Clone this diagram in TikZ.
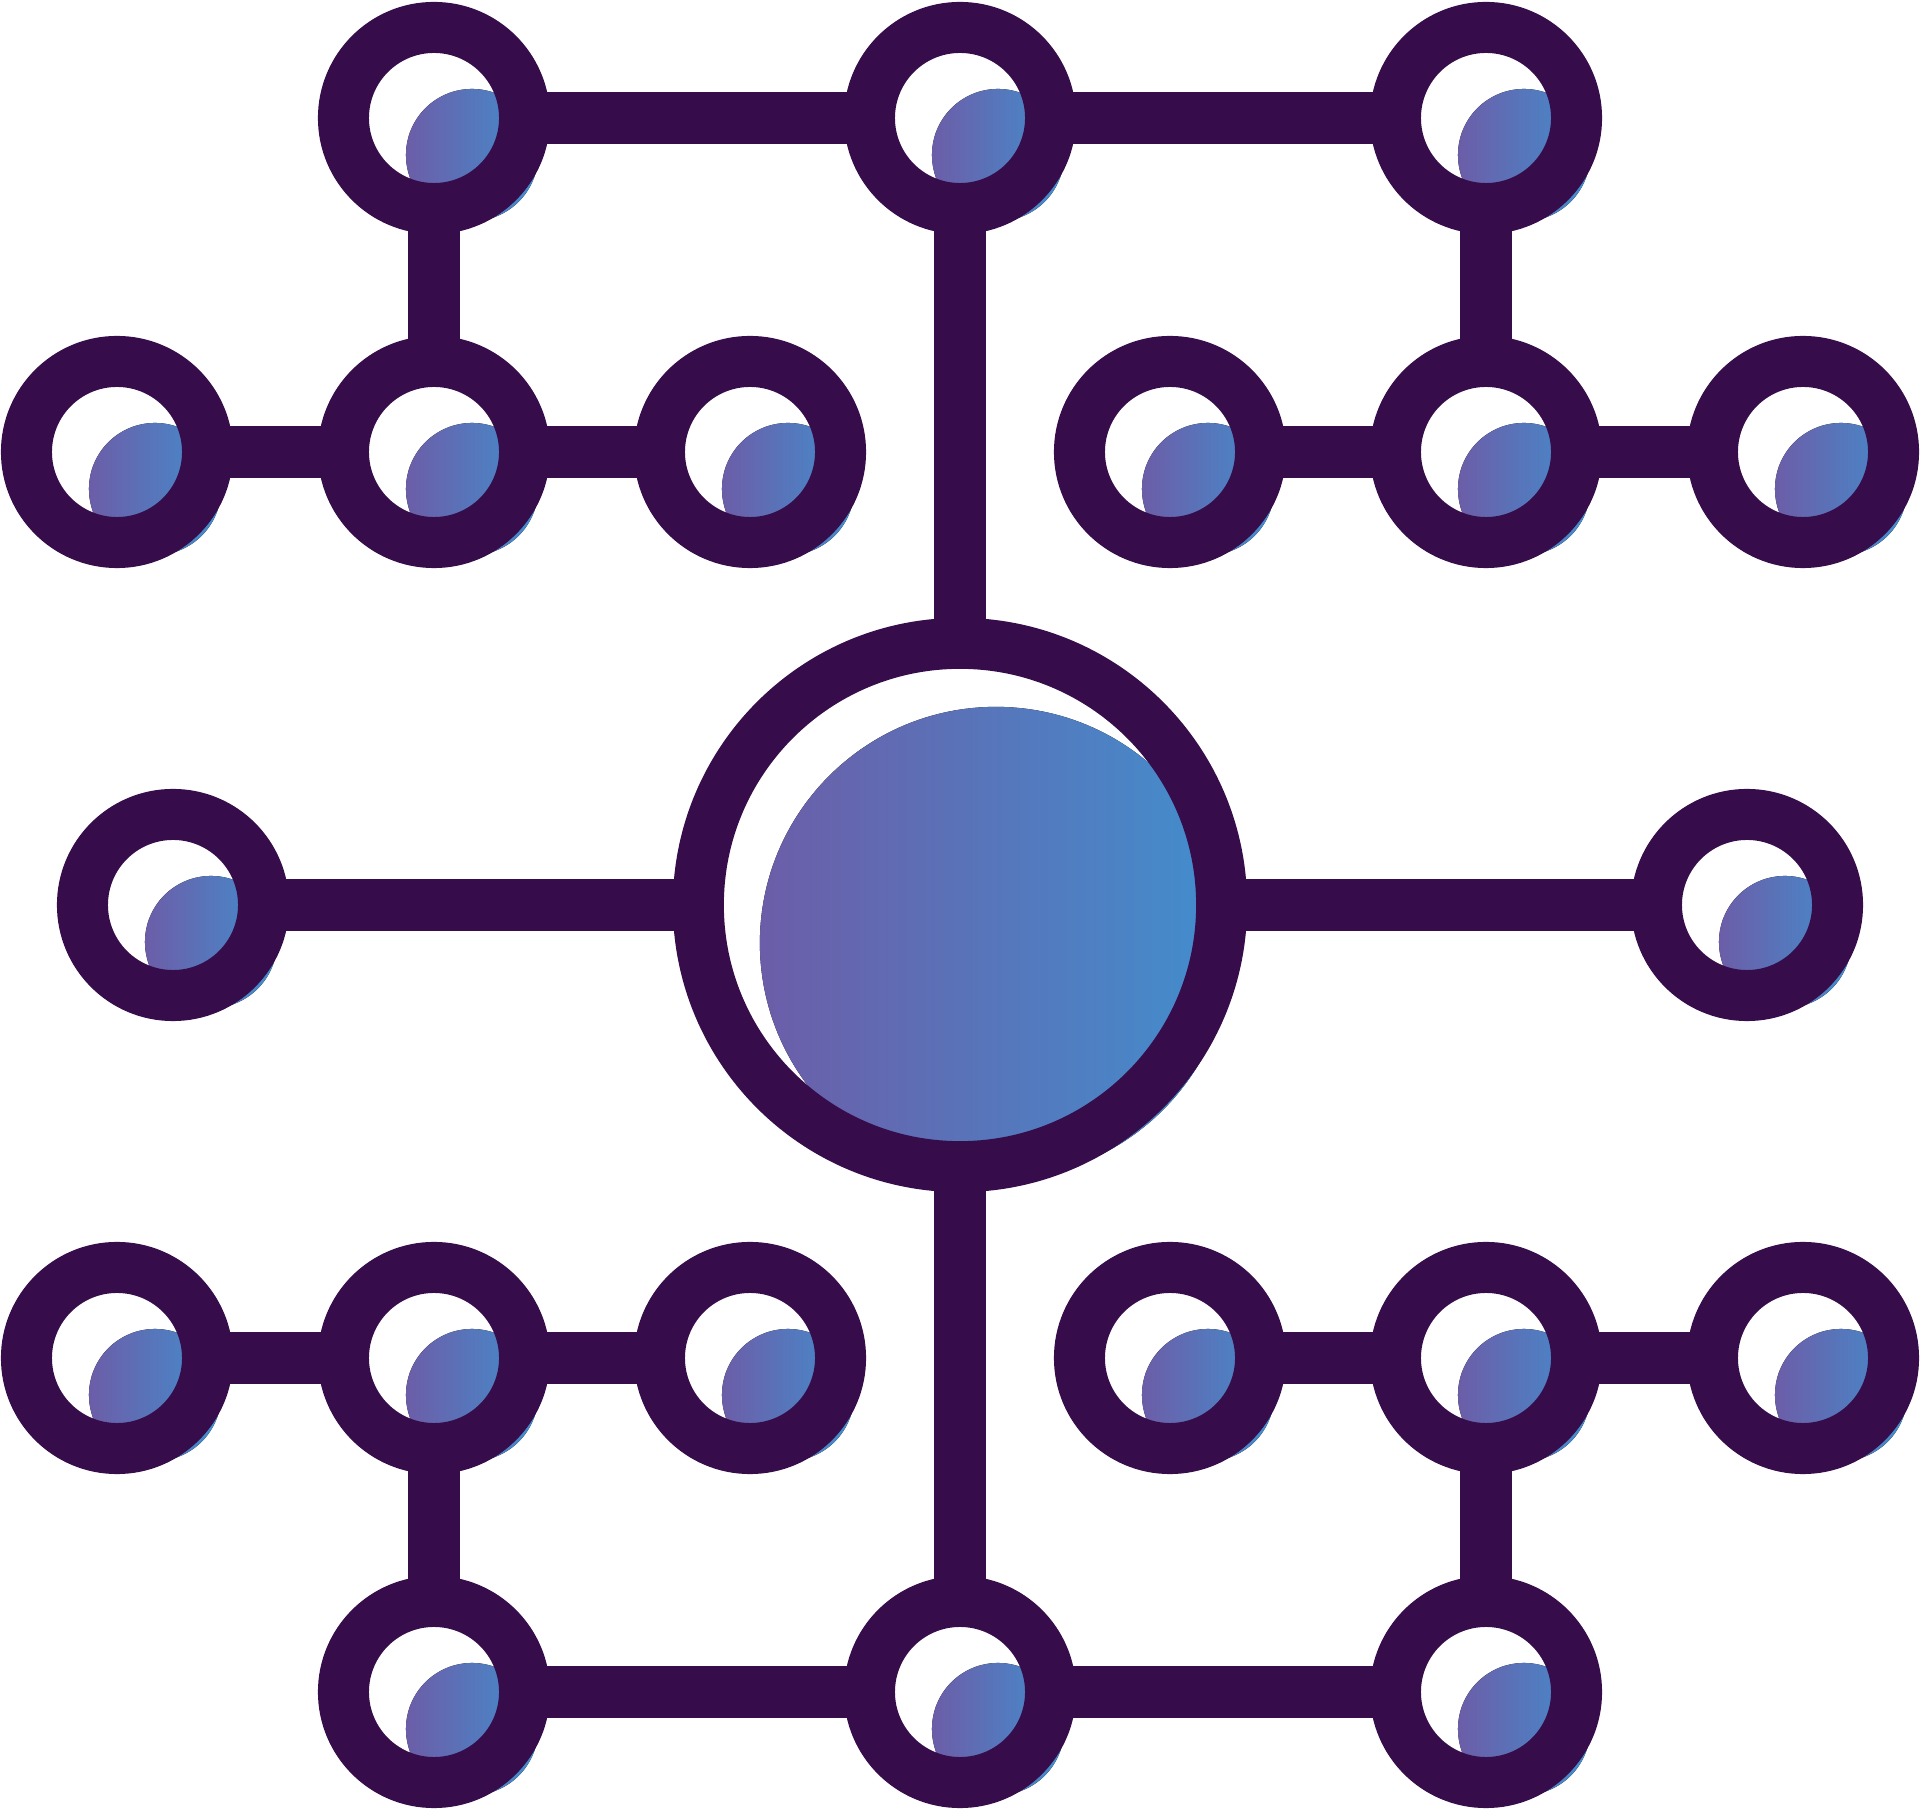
\documentclass[tikz,border=0pt]{standalone}
\usetikzlibrary{calc,backgrounds}
\definecolor{ink}{RGB}{54,12,74}
\definecolor{blobL}{RGB}{108,93,168}
\definecolor{blobR}{RGB}{65,143,206}
\begin{document}
\begin{tikzpicture}[x=.01cm,y=-.01cm,
  ring/.style={circle,draw=ink,line width=.51cm,inner sep=0pt,outer sep=0pt,minimum size=1.81cm},
  hubring/.style={ring,minimum size=5.23cm},
  wire/.style={draw=ink,line width=.51cm},
  blob/.style={left color=blobL,right color=blobR}]
\useasboundingbox (0,0) rectangle (1920,1810);
\foreach \n/\x/\y in {t1/434/118,t2/960/118,t3/1486/118,
  a1/117/452,a2/434/452,a3/750/452,a4/1170/452,a5/1486/452,a6/1803/452,
  l/173/905,r/1747/905,
  b1/117/1358,b2/434/1358,b3/750/1358,b4/1170/1358,b5/1486/1358,b6/1803/1358,
  d1/434/1692,d2/960/1692,d3/1486/1692}
  {\node[ring] (\n) at (\x,\y) {};}
\node[hubring] (hub) at (960,905) {};
\begin{scope}[on background layer]
\foreach \n in {t1,t2,t3,a1,a2,a3,a4,a5,a6,l,r,b1,b2,b3,b4,b5,b6,d1,d2,d3}
  {\fill[blob] ($(\n)+(38,37)$) circle (.66cm);}
\fill[blob] ($(hub)+(36,38)$) circle (2.36cm);
\end{scope}
\foreach \a/\b in {t1/t2,t2/t3,t1/a2,t2/hub,t3/a5,a1/a2,a2/a3,a4/a5,a5/a6,
  l/hub,hub/r,b1/b2,b2/b3,b4/b5,b5/b6,b2/d1,hub/d2,b5/d3,d1/d2,d2/d3}
  {\draw[wire] (\a) -- (\b);}
\end{tikzpicture}
\end{document}
